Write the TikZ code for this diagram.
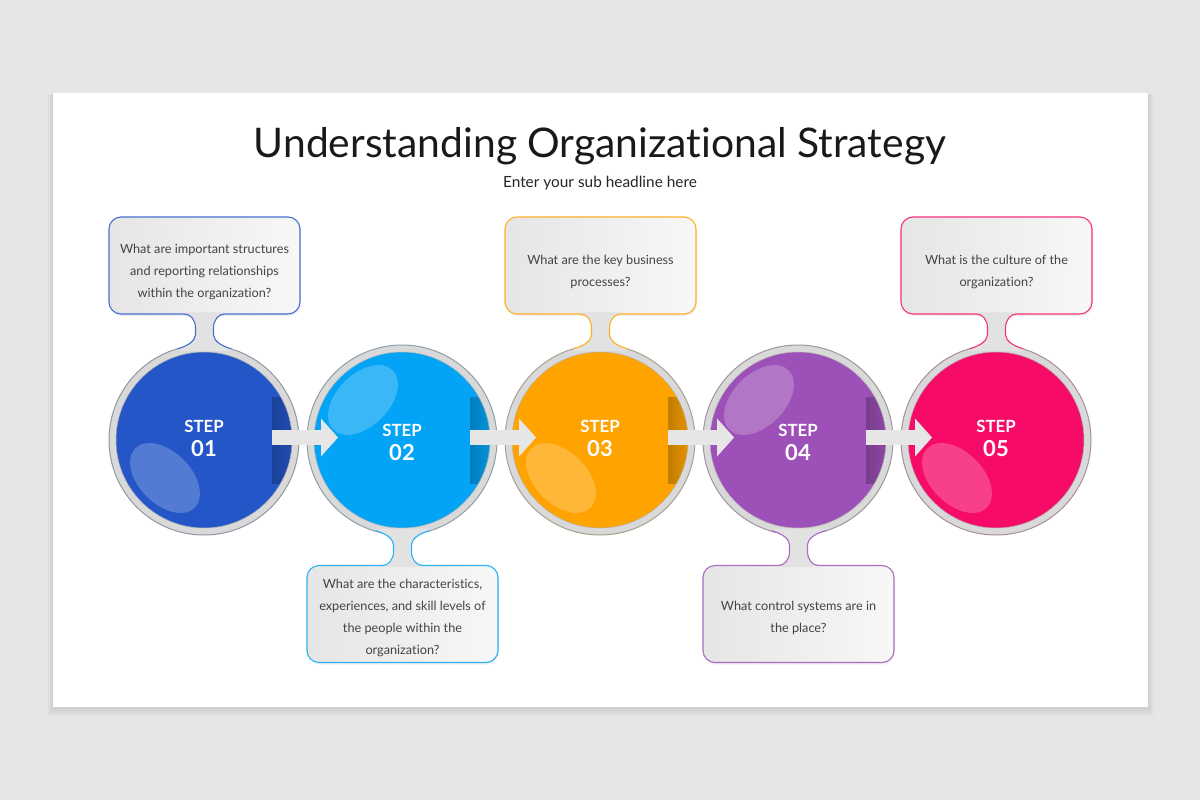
\documentclass[tikz,border=0pt]{standalone}
\usepackage{fontspec}
\setmainfont{Lato}[Ligatures=NoCommon]
\usetikzlibrary{arrows.meta,shadows}

\definecolor{pagebg}{HTML}{E7E6E7}
\definecolor{ringgray}{HTML}{D9D9D9}
\definecolor{neckgray}{HTML}{E2E2E2}
\definecolor{arrowgray}{HTML}{E6E6E6}
\definecolor{textgray}{HTML}{434343}
\definecolor{stepA}{HTML}{2456C8}
\definecolor{stepB}{HTML}{03A3F5}
\definecolor{stepC}{HTML}{FFA300}
\definecolor{stepD}{HTML}{9D50B7}
\definecolor{stepE}{HTML}{F60B68}

\tikzset{
 qbox/.style={draw=#1!85!white, line width=1.1pt, rounded corners=12pt, minimum width=191pt,
  minimum height=97pt, outer sep=0pt, left color=black!10, right color=black!3,
  drop shadow={opacity=.12,shadow xshift=1pt,shadow yshift=-2pt}},
 qtext/.style={text=textgray, align=center, inner sep=0pt, font=\fontsize{12.7}{22}\selectfont},
 ring/.style={circle, minimum size=190pt, inner sep=0pt, outer sep=0pt, fill=ringgray,
  draw=#1!25!black!45!white, line width=1pt},
 flow/.style={line width=15pt, draw=arrowgray, -{Triangle[width=38pt,length=17pt,line width=0pt]}},
 steplbl/.style={text=white, font=\bfseries\fontsize{16.8}{16.8}\selectfont, anchor=base, inner sep=0pt},
 stepnum/.style={text=white, font=\bfseries\fontsize{22}{22}\selectfont, anchor=base, inner sep=0pt},
 neck/.pic={
  \fill[neckgray] (-20,-1.6) -- (-20,0) .. controls (-14,0) and (-9,6) .. (-9,14) -- (-9,19)
   .. controls (-9,27) and (-15,31) .. (-27,35) -- (-27,37) -- (27,37) -- (27,35)
   .. controls (15,31) and (9,27) .. (9,19) -- (9,14) .. controls (9,6) and (14,0) .. (20,0)
   -- (20,-1.6) -- cycle;
  \draw[pic actions] (-20,0) .. controls (-14,0) and (-9,6) .. (-9,14) -- (-9,19)
   .. controls (-9,27) and (-15,31) .. (-27,35);
  \draw[pic actions] (20,0) .. controls (14,0) and (9,6) .. (9,14) -- (9,19)
   .. controls (9,27) and (15,31) .. (27,35);
 }
}

\begin{document}
\begin{tikzpicture}[x=1pt,y=-1pt]
\useasboundingbox (0,0) rectangle (1200,800);
\fill[pagebg] (0,0) rectangle (1200,800);
\foreach \k in {1,...,8}
 \fill[black,opacity=.012] (53-.7*\k,93+.2*\k) rectangle (1148+.7*\k,707+1.2*\k);
\fill[white] (53,93) rectangle (1148,707);

\node[anchor=base, font=\fontsize{40.8}{44}\selectfont, text=black!90] (title) at (600,157)
 {Understanding Organizational Strategy};
\node[anchor=base, font=\fontsize{15.4}{16}\selectfont, text=black!85] (sub) at (600,187)
 {Enter your sub headline here};

% question boxes
\node[qbox=stepA] (b1) at (204.5,265.5) {};
\node[qbox=stepB] (b2) at (402.5,614) {};
\node[qbox=stepC] (b3) at (600.5,265.5) {};
\node[qbox=stepD] (b4) at (798.5,614) {};
\node[qbox=stepE] (b5) at (996.5,265.5) {};
\node[qtext] (q1) at (204.5,272) {What are important structures\\and reporting relationships\\within the organization?};
\node[qtext] (q2) at (402.5,617.5) {What are the characteristics,\\experiences,  and skill levels of\\the people within the\\organization?};
\node[qtext] (q3) at (600.5,272) {What are the key business\\processes?};
\node[qtext] (q4) at (798.5,617.5) {What control systems are in\\the place?};
\node[qtext] (q5) at (996.5,272) {What is the culture of the\\organization?};

% steps
\foreach \i/\x/\c/\t/\hy/\r in {1/204/stepA/0/478/-45, 2/402/stepB/4/400/45,
  3/600/stepC/0/478/-45, 4/798/stepD/4/400/45, 5/996/stepE/0/478/-45}{
 \node[ring=\c] (s\i) at (\x,440) {};
 \fill[\c] (s\i.center) circle (88);
 \begin{scope}
  \clip (s\i.center) circle (88);
  \ifnum\i<5 \shade[left color=\c!76!black, right color=\c!93!black] (\x+68,397) rectangle (\x+92,483); \fi
  \fill[white, opacity=.22, rotate around={\r:(\x-39,\hy)}] (\x-39,\hy) ellipse [x radius=42, y radius=26];
 \end{scope}
 \draw[gray!60, line width=.5pt] (s\i.center) circle (88);
 \node[steplbl] (t\i) at (\x,432+\t) {STEP};
 \node[stepnum] (n\i) at (\x,456+\t) {0\i};
}

% necks
\pic[draw=stepA!85!white, line width=1.1pt] at (b1.south) {neck};
\pic[draw=stepB!85!white, line width=1.1pt, yscale=-1] at (b2.north) {neck};
\pic[draw=stepC!85!white, line width=1.1pt] at (b3.south) {neck};
\pic[draw=stepD!85!white, line width=1.1pt, yscale=-1] at (b4.north) {neck};
\pic[draw=stepE!85!white, line width=1.1pt] at (b5.south) {neck};

\foreach \i/\j in {1/2,2/3,3/4,4/5}
 \draw[flow] ([xshift=68pt,yshift=2.5pt]s\i.center) -- ([xshift=-64pt,yshift=2.5pt]s\j.center);
\end{tikzpicture}
\end{document}
